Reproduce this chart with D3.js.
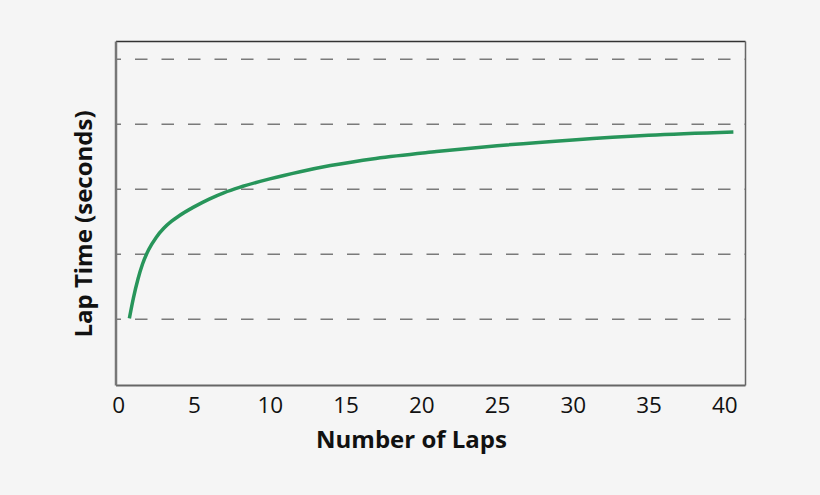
<!DOCTYPE html>
<html>
<head>
<meta charset="utf-8">
<script src="https://cdn.jsdelivr.net/npm/d3@7"></script>
<style>
  html, body { margin: 0; padding: 0; background: #f5f5f5; }
  svg { display: block; }
  text { font-family: "Open Sans", sans-serif; fill: #111; }
</style>
</head>
<body>
<div id="chart"></div>
<script>
// Data
const laps = [0.73, 1.0, 1.3, 1.6, 2.0, 2.5, 3.0, 3.5, 4.0, 5.0, 6.0, 7.0, 8.0, 10, 12, 14, 17, 21, 25, 30, 35, 40.6];
const lapTime = [1.015, 1.33, 1.62, 1.85, 2.07, 2.26, 2.40, 2.505, 2.59, 2.73, 2.85, 2.95, 3.03, 3.16, 3.27, 3.365, 3.475, 3.58, 3.67, 3.76, 3.83, 3.88];
const xTicks = [0, 5, 10, 15, 20, 25, 30, 35, 40];
const gridValues = [1, 2, 3, 4, 5];

const width = 820, height = 495;
const box = {left: 116, right: 745.5, top: 41.5, bottom: 385.5};

const svg = d3.select('#chart')
    .append('svg')
    .attr('width', width)
    .attr('height', height);

// Scales
const x = d3.scaleLinear().domain([0, 40]).range([118.3, 724.3]);
const y = d3.scaleLinear().domain([0, 5]).range([384.3, 59.3]);

// Dashed gridlines
svg.append('g')
    .selectAll('line')
    .data(gridValues)
    .enter()
    .append('line')
    .attr('x1', box.left)
    .attr('x2', box.right)
    .attr('y1', d => y(d))
    .attr('y2', d => y(d))
    .attr('stroke', '#7a7a7a')
    .attr('stroke-width', 1.5)
    .attr('stroke-dasharray', '12.5 14')
    .attr('stroke-dashoffset', 7.5);

// Frame
svg.append('line').attr('x1', box.left).attr('x2', box.right).attr('y1', box.top).attr('y2', box.top)
    .attr('stroke', '#333').attr('stroke-width', 1.5);
svg.append('line').attr('x1', box.left).attr('x2', box.right).attr('y1', box.bottom).attr('y2', box.bottom)
    .attr('stroke', '#666').attr('stroke-width', 2);
svg.append('line').attr('x1', box.left).attr('x2', box.left).attr('y1', box.top).attr('y2', box.bottom)
    .attr('stroke', '#777').attr('stroke-width', 2.5);
svg.append('line').attr('x1', box.right).attr('x2', box.right).attr('y1', box.top).attr('y2', box.bottom)
    .attr('stroke', '#666').attr('stroke-width', 1.5);

// X axis labels
const xAxis = svg.append('g')
    .attr('transform', `translate(0,${box.bottom})`)
    .call(d3.axisBottom(x).tickValues(xTicks).tickSize(0).tickPadding(12));
xAxis.select('.domain').remove();
xAxis.selectAll('text')
    .style('font-family', '"Open Sans", sans-serif')
    .style('font-size', '22.5px')
    .attr('fill', '#111');

// Curve
const points = laps.map((d, i) => ({lap: d, t: lapTime[i]}));
const line = d3.line()
    .x(d => x(d.lap))
    .y(d => y(d.t))
    .curve(d3.curveMonotoneX);

svg.append('path')
    .datum(points)
    .attr('d', line)
    .attr('fill', 'none')
    .attr('stroke', '#27955a')
    .attr('stroke-width', 3.5)
    .attr('stroke-linecap', 'butt');

// Axis titles
svg.append('text')
    .attr('x', 411.5)
    .attr('y', 448)
    .attr('text-anchor', 'middle')
    .style('font-size', '24px')
    .style('font-weight', 'bold')
    .text('Number of Laps');

svg.append('text')
    .attr('transform', 'translate(92,224) rotate(-90)')
    .attr('text-anchor', 'middle')
    .style('font-size', '24px')
    .style('font-weight', 'bold')
    .text('Lap Time (seconds)');
</script>
</body>
</html>
